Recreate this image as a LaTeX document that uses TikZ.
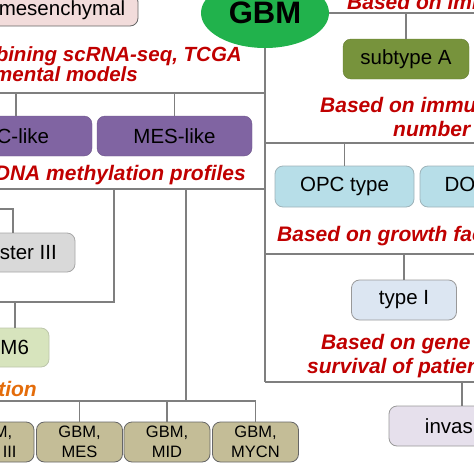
\documentclass[tikz,border=0pt]{standalone}
\usepackage{fontspec}
\setmainfont{Liberation Sans}
\usepackage{xcolor}
\usetikzlibrary{shapes,positioning,calc}

\definecolor{critred}{HTML}{C00000}
\definecolor{critorange}{HTML}{E46C0A}
\definecolor{linegray}{HTML}{7F7F7F}
\definecolor{gbmgreen}{HTML}{21B24C}
\definecolor{boxpink}{HTML}{F2DCDB}
\definecolor{boxolive}{HTML}{77933C}
\definecolor{boxpurple}{HTML}{8064A2}
\definecolor{boxblue}{HTML}{B7DEE8}
\definecolor{boxgrey}{HTML}{D9D9D9}
\definecolor{boxlime}{HTML}{D7E4BD}
\definecolor{boxtan}{HTML}{C4BD97}
\definecolor{boxice}{HTML}{DCE6F2}
\definecolor{boxlilac}{HTML}{E6E0EC}

\begin{document}
\begin{tikzpicture}[x=1pt, y=-1pt,
  subbox/.style={draw, rectangle, rounded corners=8pt, minimum height=40pt, inner sep=0pt, line width=0.8pt, font=\fontsize{20.5}{24}\selectfont},
  pinkbox/.style={subbox, fill=boxpink, draw=gray!80!black},
  olivebox/.style={subbox, fill=boxolive, draw=boxolive!85!black, line width=0.4pt},
  purplebox/.style={subbox, fill=boxpurple, draw=boxpurple!85!black, line width=0.4pt},
  bluebox/.style={subbox, fill=boxblue, draw=boxblue!55!gray},
  greybox/.style={subbox, fill=boxgrey, draw=gray!70},
  limebox/.style={subbox, fill=boxlime, draw=boxlime!70!gray},
  tanbox/.style={subbox, fill=boxtan, draw=gray!80!black, align=center, minimum width=86pt, font=\fontsize{16.5}{20}\selectfont},
  icebox/.style={subbox, fill=boxice, draw=gray!80},
  lilacbox/.style={subbox, fill=boxlilac, draw=gray!80},
  gbmnode/.style={ellipse, fill=gbmgreen, minimum width=128pt, minimum height=70pt, inner sep=0pt, font=\fontsize{31}{34}\selectfont\bfseries},
  crit/.style={inner sep=0pt, text=critred, font=\fontsize{21}{25}\selectfont\bfseries\itshape},
  branch/.style={draw=linegray, line width=1.2pt}
]
\useasboundingbox (0,0) rectangle (474,474);
\clip (0,0) rectangle (474,474);

% boxes
\node[pinkbox, minimum width=152pt, minimum height=32pt] (mes) at (62,10) {mesenchymal};
\node[gbmnode] (gbm) at (265,13) {GBM};
\node[olivebox, minimum width=126pt] (subA) at (406,59) {subtype A};
\node[purplebox, minimum width=152pt] (ac) at (16,136) {AC-like};
\node[purplebox, minimum width=155pt] (mesl) at (174.5,136) {MES-like};
\node[bluebox, minimum width=139pt, minimum height=41pt] (opc) at (344.5,186.5) {OPC type};
\node[bluebox, minimum width=139pt, minimum height=41pt] (doc) at (489.5,186.5) {DOC type};
\node[greybox, minimum width=124pt, minimum height=39pt] (clu) at (13,252.5) {Cluster III};
\node[icebox, minimum width=105pt] (typeI) at (404,300) {type I};
\node[limebox, minimum width=96pt, minimum height=39pt] (lgm) at (1,347.5) {LGM6};
\node[lilacbox, minimum width=146pt] (inv) at (462,426) {invasive};
\node[tanbox] (b1) at (-9,442) {GBM,\\RTK III};
\node[tanbox] (b2) at (79.5,442) {GBM,\\MES};
\node[tanbox] (b3) at (167,442) {GBM,\\MID};
\node[tanbox] (b4) at (255.5,442) {GBM,\\MYCN};

% criteria
\node[crit, anchor=base west] (immA) at (347,9) {Based on immune};
\node[crit, anchor=base east, font=\fontsize{20.5}{24}\selectfont\bfseries\itshape] (combA) at (242,61) {Based on combining scRNA-seq, TCGA};
\node[crit, anchor=base east, font=\fontsize{20.5}{24}\selectfont\bfseries\itshape] (combB) at (138,81) {data and experimental models};
\node[crit, anchor=base west] (immB) at (320,112) {Based on immune cell};
\node[crit, anchor=base west] (immC) at (393,136) {number of};
\node[crit, anchor=base east] (dna) at (246,180) {Based on DNA methylation profiles};
\node[crit, anchor=base west] (grow) at (277,241) {Based on growth factor};
\node[crit, anchor=base west] (geneA) at (321,349) {Based on gene};
\node[crit, anchor=base west] (geneB) at (307,373) {survival of patients};
\node[crit, anchor=base east, text=critorange] (integ) at (37,396) {classification};

% junctions
\coordinate (t1) at (265,93);
\coordinate (t2) at (265,143);
\coordinate (t3) at (265,189);
\coordinate (t4) at (265,254);
\coordinate (t5) at (265,382);
\coordinate (m1) at (114,189);
\coordinate (m2) at (186,189);
\coordinate (j1) at (15,302);
\coordinate (e0) at (480,13);
\coordinate (e2) at (480,143);
\coordinate (e4) at (480,254);
\coordinate (e5) at (480,382);
\coordinate (w1) at (-5,93);
\coordinate (w3) at (-5,189);
\coordinate (w4) at (-5,302);
\coordinate (w5) at (-5,209);
\coordinate (w6) at (-5,401);

% tree
\draw[branch] (gbm.south) -- (t5);
\draw[branch] (gbm.east) -- (e0);
\draw[branch] (subA.north) -- (subA.north |- e0);
\draw[branch] (w1) -- (t1);
\draw[branch] (ac.north) -- (ac.north |- t1);
\draw[branch] (mesl.north) -- (mesl.north |- t1);
\draw[branch] (t2) -- (e2);
\draw[branch] (opc.north) -- (opc.north |- t2);
\draw[branch] (w3) -- (t3);
\draw[branch] (m1) |- (w4);
\draw[branch] (j1) -- (j1 |- lgm.north);
\draw[branch] (w5) -| (clu.north);
\draw[branch] (m2) -- (m2 |- w6);
\draw[branch] (w6) -| (b4.north);
\foreach \b in {b1,b2,b3}
  \draw[branch] (\b.north) -- (\b.north |- w6);
\draw[branch] (t4) -- (e4);
\draw[branch] (typeI.north) -- (typeI.north |- t4);
\draw[branch] (t5) -- (e5);
\draw[branch] (inv.north) -- (inv.north |- t5);
\end{tikzpicture}
\end{document}
